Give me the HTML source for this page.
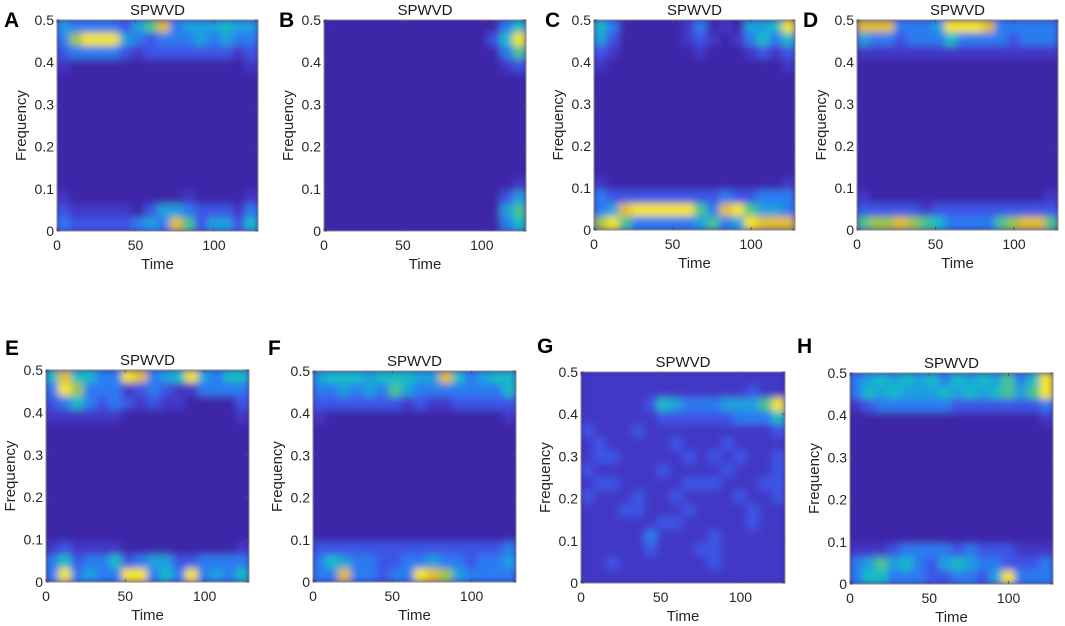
<!DOCTYPE html>
<html><head><meta charset="utf-8"><style>
html,body{margin:0;padding:0;background:#fff;}
body{width:1065px;height:626px;overflow:hidden;position:relative;font-family:"Liberation Sans",Arial,sans-serif;}
svg{position:absolute;left:0;top:0;}
</style></head><body>
<svg id="fig" width="1065" height="626" viewBox="0 0 1065 626">
<defs><filter id="blur" x="-10%" y="-10%" width="120%" height="120%"><feGaussianBlur stdDeviation="3.8" edgeMode="duplicate"/></filter></defs>
</svg>
<script>
const timeTicks=[0,50,100];
const freqTicks=[0,0.1,0.2,0.3,0.4,0.5];
const timeMax=128, freqMax=0.5;
const panelLetters=["A","B","C","D","E","F","G","H"];
// energy matrices: 16 rows (top = 0.5 → bottom = 0), 16 time columns, digits 0-9
const mapA=["4333324683444544","3799943233343433","2333321222222212","1000000000000001","0000000000000000","0000000000000000","0000000000000000","0000000000000000","0000000000000000","0000000000000000","0000000000000000","0000000000000000","0000000000000000","1000000000100001","2111110244322213","3222223438624425"];
const mapB=["0000000000000035","0000000000000259","0000000000000036","0000000000000012","0000000000000000","0000000000000000","0000000000000000","0000000000000000","0000000000000000","0000000000000000","0000000000000000","0000000000000000","0000000000000001","0000000000000024","0000000000000046","0000000000000035"];
const mapC=["5300000130104459","4200000121013535","2100000010001212","1000000000000001","0000000000000000","0000000000000000","0000000000000000","0000000000000000","0000000000000000","0000000000000000","0000000000000000","0000000000000000","1000000000000001","3222222222322333","3489999963896443","7963333346349888"];
const mapD=["8883334999833333","4332333533332333","1111111111111111","0000000000000000","0000000000000000","0000000000000000","0000000000000000","0000000000000000","0000000000000000","0000000000000000","0000000000000000","0000000000000000","0000000000000000","1000000000000001","2222212222222222","6778765333367886"];
const mapE=["5855339834594355","3973331232113333","2353232121100002","1111110000000001","0000000000000000","0000000000000000","0000000000000000","0000000000000000","0000000000000000","0000000000000000","0000000000000000","0000000000000000","0000000000000000","1211110000000001","3523352344223333","3934339935393435"];
const mapF=["4555455544853455","3343436433333335","2222222121122222","1000000000000001","0000000000000000","0000000000000000","0000000000000000","0000000000000000","0000000000000000","0000000000000000","0000000000000000","0000000000000000","0000000000000000","2222222222222223","3543322334332334","3383323398743333"];
const mapG=["1111111111111111","1111111111111211","1111125433344469","1111112222223335","2111211111111112","1211111211121111","1221111121212112","2111112111121112","1221111122211122","2111211211112112","1112211121111211","1111112211111211","1111131111211111","1111121112211111","1121111111211111","1111111111111111"];
const mapH=["3454545354546359","3545444545456469","1233333322222223","0000000000000001","0000000000000000","0000000000000000","0000000000000000","0000000000000000","0000000000000000","0000000000000000","0000000000000000","0000000000000000","0000000000000000","1112333323222111","3464532454332223","3553332233249333"];
const maps=[mapA,mapB,mapC,mapD,mapE,mapF,mapG,mapH];
const palette=["#3D27A8","#4237C6","#3C55E6","#2C7CF0","#1AA0DE","#13BCC4","#48C48C","#9DC54A","#E2BD2C","#F6E61A"];
const boxes=[[57,20,258,231],[324,20,526,231],[594,20,795,230],[857,20,1058,230],[46,370,249,582],[313,371,516,582],[581,372,785,583],[850,373,1053,584]];
const letterPos=[[4,27],[279,27],[545,27],[803,27],[5,355],[268,355],[537,353],[797,353]];
const NS="http://www.w3.org/2000/svg";
const svg=document.getElementById("fig");
function mk(tag,attrs,parent){const e=document.createElementNS(NS,tag);for(const k in attrs)e.setAttribute(k,attrs[k]);(parent||svg).appendChild(e);return e;}
boxes.forEach((b,i)=>{
  const [L,T,R,B]=b;const W=R-L,H=B-T;
  const xs=t=>L+t/timeMax*W; const ys=f=>B-f/freqMax*H;
  const g=mk("g",{});
  
  
  const clip=mk("clipPath",{id:"clip"+i},g);
  mk("rect",{x:L,y:T,width:W,height:H},clip);
  const clipG=mk("g",{"clip-path":"url(#clip"+i+")"},g);
  mk("rect",{x:L,y:T,width:W,height:H,fill:palette[0]},clipG);
  const hm=mk("g",{filter:"url(#blur)"},clipG);
  
  
  const m=maps[i];const nr=m.length,nc=m[0].length;
  for(let r=0;r<nr;r++)for(let c=0;c<nc;c++){
    const v=+m[r][c];
    const x0=xs(c*timeMax/nc),x1=xs((c+1)*timeMax/nc);
    const y0=ys(freqMax-r*freqMax/nr),y1=ys(freqMax-(r+1)*freqMax/nr);
    const cell=mk("rect",{x:x0-0.5,y:y0-0.5,width:x1-x0+1,height:y1-y0+1,fill:palette[v]},hm);
    
    
  }
  const frame=mk("rect",{x:L,y:T,width:W,height:H,fill:"none",stroke:"#8a8a8a","stroke-width":1},g);
  
  
  timeTicks.forEach(t=>{
    const x=xs(t);
    mk("line",{x1:x,y1:B,x2:x,y2:B-3,stroke:"#555"},g);mk("line",{x1:x,y1:T,x2:x,y2:T+3,stroke:"#555"},g);
    const tl=mk("text",{x:x,y:B+19,"text-anchor":"middle","font-size":"14","fill":"#262626"},g);tl.textContent=t;
    
    
  });
  freqTicks.forEach(f=>{
    const y=ys(f);
    mk("line",{x1:L,y1:y,x2:L+3,y2:y,stroke:"#555"},g);mk("line",{x1:R,y1:y,x2:R-3,y2:y,stroke:"#555"},g);
    const tl=mk("text",{x:L-3,y:y+5,"text-anchor":"end","font-size":"14","fill":"#262626"},g);tl.textContent=f===0?"0":f.toFixed(1);
    
    
  });
  const xt=mk("text",{x:(L+R)/2,y:B+38,"text-anchor":"middle","font-size":"15","fill":"#262626"},g);xt.textContent="Time";
  
  
  const yx=L-31,yy=(T+B)/2;
  const yt=mk("text",{x:yx,y:yy,"text-anchor":"middle","font-size":"15","fill":"#262626",transform:"rotate(-90 "+yx+" "+yy+")"},g);yt.textContent="Frequency";
  
  
  const ti=mk("text",{x:(L+R)/2,y:T-5,"text-anchor":"middle","font-size":"15","fill":"#1a1a1a"},g);ti.textContent="SPWVD";
  
  
  const lt=mk("text",{x:letterPos[i][0],y:letterPos[i][1],"font-size":"21","font-weight":"bold","fill":"#000"},g);lt.textContent=panelLetters[i];
  
  
});
</script>
</body></html>
